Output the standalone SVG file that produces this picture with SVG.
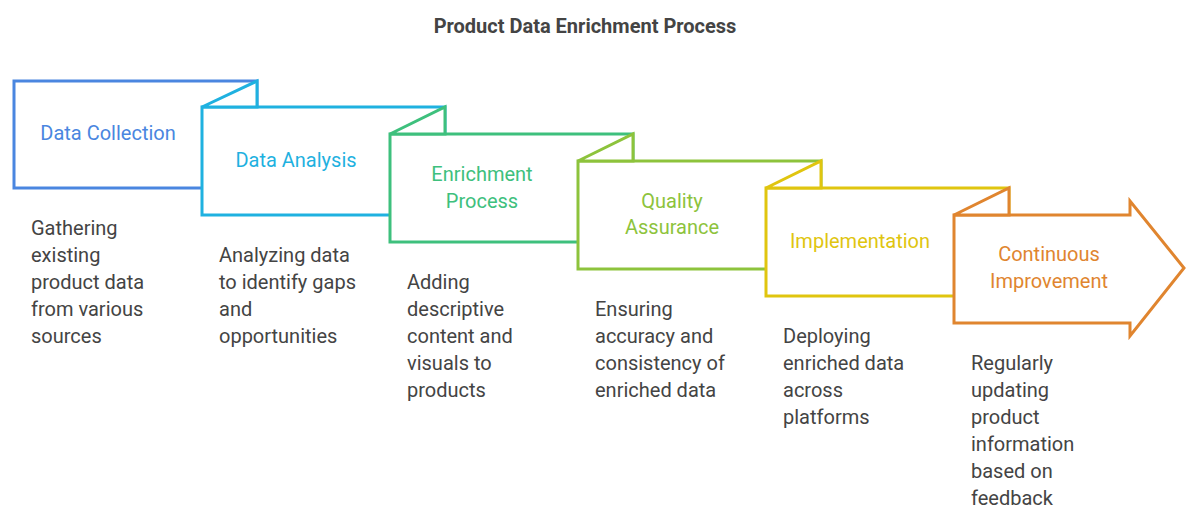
<svg xmlns="http://www.w3.org/2000/svg" width="1199" height="525" viewBox="0 0 1199 525">
<style>
.s{fill:#fff;stroke-width:3;stroke-linejoin:miter}
.l{font-family:Roboto,"Liberation Sans",sans-serif;font-size:20px;text-anchor:middle}
.d{font-family:Roboto,"Liberation Sans",sans-serif;font-size:20px;fill:#444}
</style>
<rect width="1199" height="525" fill="#fff"/>
<text x="585" y="33" font-family="Roboto,'Liberation Sans',sans-serif" font-size="20" font-weight="bold" fill="#444" text-anchor="middle">Product Data Enrichment Process</text>
<g id="n1" stroke="#4a86e0" fill="#4a86e0"><rect class="s" x="14" y="81" width="243" height="107"/><text class="l" x="108" y="140" stroke="none">Data Collection</text></g>
<g id="n2" stroke="#1fb1e0" fill="#1fb1e0"><rect class="s" x="202" y="107" width="243" height="108"/><polygon class="s" points="202,107 257,81 257,107"/><text class="l" x="296" y="167" stroke="none">Data Analysis</text></g>
<g id="n3" stroke="#3ec07d" fill="#3ec07d"><rect class="s" x="390" y="134" width="243" height="108"/><polygon class="s" points="390,134 445,107 445,134"/><text class="l" x="482" y="181" stroke="none">Enrichment</text><text class="l" x="482" y="208" stroke="none">Process</text></g>
<g id="n4" stroke="#8dc33c" fill="#8dc33c"><rect class="s" x="578" y="161" width="243" height="108"/><polygon class="s" points="578,161 633,134 633,161"/><text class="l" x="672" y="208" stroke="none">Quality</text><text class="l" x="672" y="234" stroke="none">Assurance</text></g>
<g id="n5" stroke="#e0c50f" fill="#e0c50f"><rect class="s" x="766" y="188" width="243" height="108"/><polygon class="s" points="766,188 821,161 821,188"/><text class="l" x="860" y="248" stroke="none">Implementation</text></g>
<g id="n6" stroke="#e0852f" fill="#e0852f"><polygon class="s" points="954,215 1130,215 1130,201 1184,268 1130,336 1130,323 954,323"/><polygon class="s" points="954,215 1009,188 1009,215"/><text class="l" x="1049" y="261" stroke="none">Continuous</text><text class="l" x="1049" y="288" stroke="none">Improvement</text></g>
<g id="desc" class="d">
<text class="d" x="31" y="235">Gathering<tspan x="31" dy="27">existing</tspan><tspan x="31" dy="27">product data</tspan><tspan x="31" dy="27">from various</tspan><tspan x="31" dy="27">sources</tspan></text>
<text class="d" x="219" y="262">Analyzing data<tspan x="219" dy="27">to identify gaps</tspan><tspan x="219" dy="27">and</tspan><tspan x="219" dy="27">opportunities</tspan></text>
<text class="d" x="407" y="289">Adding<tspan x="407" dy="27">descriptive</tspan><tspan x="407" dy="27">content and</tspan><tspan x="407" dy="27">visuals to</tspan><tspan x="407" dy="27">products</tspan></text>
<text class="d" x="595" y="316">Ensuring<tspan x="595" dy="27">accuracy and</tspan><tspan x="595" dy="27">consistency of</tspan><tspan x="595" dy="27">enriched data</tspan></text>
<text class="d" x="783" y="343">Deploying<tspan x="783" dy="27">enriched data</tspan><tspan x="783" dy="27">across</tspan><tspan x="783" dy="27">platforms</tspan></text>
<text class="d" x="971" y="370">Regularly<tspan x="971" dy="27">updating</tspan><tspan x="971" dy="27">product</tspan><tspan x="971" dy="27">information</tspan><tspan x="971" dy="27">based on</tspan><tspan x="971" dy="27">feedback</tspan></text>
</g>
</svg>
